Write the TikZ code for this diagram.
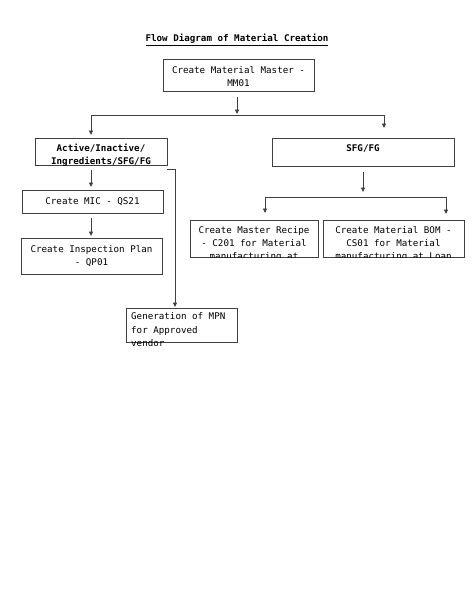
\documentclass[tikz,border=0pt]{standalone}
\usepackage{fontspec}
\setmonofont{DejaVu Sans Mono}
\usetikzlibrary{arrows.meta}
\begin{document}
\begin{tikzpicture}[x=1pt,y=-1pt,
  box/.style={draw=black!75,line width=0.9pt,inner sep=0,anchor=north west},
  txt/.style={inner sep=0,align=center,anchor=north,font=\ttfamily\fontsize{9.2}{12.8}\selectfont},
  btxt/.style={txt,font=\ttfamily\bfseries\fontsize{9.2}{13}\selectfont},
  conn/.style={draw=black!75,line width=0.9pt},
  arr/.style={conn,-{Triangle[length=4.5pt,width=4pt]}}]
\useasboundingbox[fill=white] (0,0) rectangle (474,613);
% title
\node[btxt,anchor=base] (title) at (237,41.5) {\underline{Flow Diagram of Material Creation}};
% boxes
\node[box,minimum width=151pt,minimum height=32pt] (mm) at (163,59) {};
\node[txt] (mmt) at (238.5,66.4) {Create Material Master -\\MM01};
\node[box,minimum width=132pt,minimum height=27pt] (act) at (35,138) {};
\begin{scope}\clip (act.north west) rectangle (act.south east);
\node[btxt] (actt) at (101,143.4) {Active/Inactive/\\Ingredients/SFG/FG};
\end{scope}
\node[box,minimum width=182pt,minimum height=28pt] (sfg) at (272,138) {};
\node[btxt] (sfgt) at (363,144.4) {SFG/FG};
\node[box,minimum width=141pt,minimum height=23pt] (mic) at (22,190) {};
\node[txt] (mict) at (92.5,197.4) {Create MIC - QS21};
\node[box,minimum width=141pt,minimum height=36pt] (qp) at (21,238) {};
\node[txt] (qpt) at (91.5,245.4) {Create Inspection Plan\\- QP01};
\node[box,minimum width=128pt,minimum height=37pt] (rec) at (190,220) {};
\begin{scope}\clip (rec.north west) rectangle (rec.south east);
\node[txt] (rect) at (254,226.4) {Create Master Recipe\\- C201 for Material\\manufacturing at};
\end{scope}
\node[box,minimum width=141pt,minimum height=37pt] (bom) at (323,220) {};
\begin{scope}\clip (bom.north west) rectangle (bom.south east);
\node[txt] (bomt) at (393.5,226.4) {Create Material BOM -\\CS01 for Material\\manufacturing at Loan};
\end{scope}
\node[box,minimum width=111pt,minimum height=34pt] (mpn) at (126,308) {};
\node[txt,align=left,anchor=north west,font=\ttfamily\fontsize{9.2}{13.5}\selectfont] (mpnt) at (131,312.4) {Generation of MPN\\for Approved\\vendor};
% connector points
\coordinate (s1) at (237,97);
\coordinate (j1) at (237,114);
\coordinate (l1) at (91,115);
\coordinate (r1) at (384,115);
\coordinate (e1) at (91,135);
\coordinate (e2) at (384,128);
\coordinate (s2) at (363,172);
\coordinate (j2) at (363,192);
\coordinate (l2) at (265,197);
\coordinate (r2) at (446,197);
\coordinate (e3) at (265,213);
\coordinate (e4) at (446,214);
\coordinate (s3) at (91,170);
\coordinate (e5) at (91,187);
\coordinate (s4) at (91,218);
\coordinate (e6) at (91,236);
\coordinate (s5) at (167,169);
\coordinate (b5) at (175,169);
\coordinate (e7) at (175,307);
% connectors
\draw[arr] (s1) -- (j1);
\draw[conn] (l1) -- (r1);
\draw[arr] (l1) -- (e1);
\draw[arr] (r1) -- (e2);
\draw[arr] (s2) -- (j2);
\draw[conn] (l2) -- (r2);
\draw[arr] (l2) -- (e3);
\draw[arr] (r2) -- (e4);
\draw[arr] (s3) -- (e5);
\draw[arr] (s4) -- (e6);
\draw[arr] (s5) -- (b5) -- (e7);
\end{tikzpicture}
\end{document}
